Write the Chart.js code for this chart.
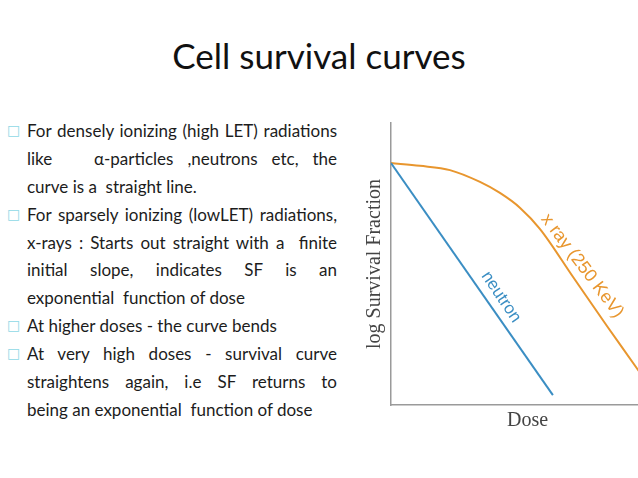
<!DOCTYPE html>
<html>
<head>
<meta charset="utf-8">
<script src="https://cdn.jsdelivr.net/npm/chart.js@4.4.1/dist/chart.umd.min.js"></script>
<style>
  html, body { margin:0; padding:0; background:#fff; }
  body { width:638px; height:478px; position:relative; overflow:hidden; font-family: Lato, "Open Sans", sans-serif; }
  #title { position:absolute; left:0; top:34px; width:638px; text-align:center; font-size:35px; color:#111; font-family: Lato, sans-serif; }
  #bullets { position:absolute; left:27px; top:117px; width:310px; font-size:17px; color:#1c1c1c; }
  .ln { height:27.9px; line-height:27.9px; white-space:nowrap; text-align:left; position:relative; }
  .j { text-align:justify; text-align-last:justify; white-space:normal; }
  .b { position:absolute; left:-20px; top:0; color:#8fd8e6; font-family:"DejaVu Sans"; font-size:14px; }
  #chartBox { position:absolute; left:360px; top:110px; width:304px; height:330px; }
</style>
</head>
<body>
<div id="title">Cell survival curves</div>
<div id="bullets">
  <div class="ln j"><span class="b">□</span>For densely ionizing (high LET) radiations</div>
  <div class="ln j">like &nbsp; α-particles ,neutrons etc, the</div>
  <div class="ln">curve is a &nbsp;straight line.</div>
  <div class="ln j"><span class="b">□</span>For sparsely ionizing (lowLET) radiations,</div>
  <div class="ln j">x-rays : Starts out straight with a &nbsp;finite</div>
  <div class="ln j">initial slope, indicates SF is an</div>
  <div class="ln">exponential &nbsp;function of dose</div>
  <div class="ln"><span class="b">□</span>At higher doses - the curve bends</div>
  <div class="ln j"><span class="b">□</span>At very high doses - survival curve</div>
  <div class="ln j">straightens again, i.e SF returns to</div>
  <div class="ln">being an exponential &nbsp;function of dose</div>
</div>
<div id="chartBox"><canvas id="c" width="304" height="330"></canvas></div>
<script>
// Data (arbitrary units, 0-10 on both axes)
const neutronDose = [0, 5.93];
const neutronLogSF = [8.58, 0.35];
const xrayDose = [0, 1.06, 2.16, 3.26, 3.99, 4.73, 5.46, 6.67, 7.91, 9.05, 9.85];
const xrayLogSF = [8.58, 8.48, 8.33, 7.91, 7.52, 6.99, 6.24, 4.54, 2.80, 1.24, 0.11];
const seriesNames = ['neutron', 'x ray (250 KeV)'];
const axisTitles = { x: 'Dose', y: 'log Survival Fraction' };

const blue = '#3b8ec3';
const orange = '#e8962e';

const toPts = (xs, ys) => xs.map((x, i) => ({ x, y: ys[i] }));

const lineLabels = {
  id: 'lineLabels',
  afterDatasetsDraw(chart, args, opts) {
    const { ctx, scales: { x, y } } = chart;
    opts.items.forEach(it => {
      const px = x.getPixelForValue(it.at[0]);
      const py = y.getPixelForValue(it.at[1]);
      ctx.save();
      ctx.translate(px, py);
      ctx.rotate(it.angle * Math.PI / 180);
      ctx.fillStyle = it.color;
      ctx.font = it.font;
      ctx.textAlign = 'center';
      ctx.textBaseline = 'middle';
      ctx.fillText(it.text, 0, 0);
      ctx.restore();
    });
  }
};

new Chart(document.getElementById('c'), {
  type: 'line',
  data: {
    datasets: [
      { label: seriesNames[0], data: toPts(neutronDose, neutronLogSF), borderColor: blue, borderWidth: 2, pointRadius: 0, tension: 0 },
      { label: seriesNames[1], data: toPts(xrayDose, xrayLogSF), borderColor: orange, borderWidth: 2, pointRadius: 0, cubicInterpolationMode: 'monotone' }
    ]
  },
  options: {
    responsive: false,
    animation: false,
    layout: { padding: { top: 13, left: 0, right: 0, bottom: 0 } },
    plugins: {
      legend: { display: false },
      tooltip: { enabled: false },
      lineLabels: {
        items: [
          { text: seriesNames[0], at: [4.03, 3.83], angle: 56, color: blue, font: '17px "Liberation Sans", Arial, sans-serif' },
          { text: seriesNames[1], at: [7.0, 4.93], angle: 53, color: orange, font: '18px "Liberation Sans", Arial, sans-serif' }
        ]
      }
    },
    scales: {
      x: {
        type: 'linear', min: 0, max: 10,
        grid: { display: false },
        border: { display: true, color: '#9a9a9a', width: 1.5 },
        ticks: { display: false },
        title: { display: true, text: axisTitles.x, color: '#444', font: { family: '"Liberation Serif", "DejaVu Serif", serif', size: 20 }, padding: { top: 0, bottom: 7 } },
        afterFit(s) { s.height = 35; }
      },
      y: {
        type: 'linear', min: 0, max: 10,
        grid: { display: false },
        border: { display: true, color: '#9a9a9a', width: 1.5 },
        ticks: { display: false },
        title: { display: true, text: axisTitles.y, color: '#444', font: { family: '"Liberation Serif", "DejaVu Serif", serif', size: 20 }, padding: { top: 3, bottom: 0 } },
        afterFit(s) { s.width = 31; }
      }
    }
  },
  plugins: [lineLabels]
});
</script>
</body>
</html>
